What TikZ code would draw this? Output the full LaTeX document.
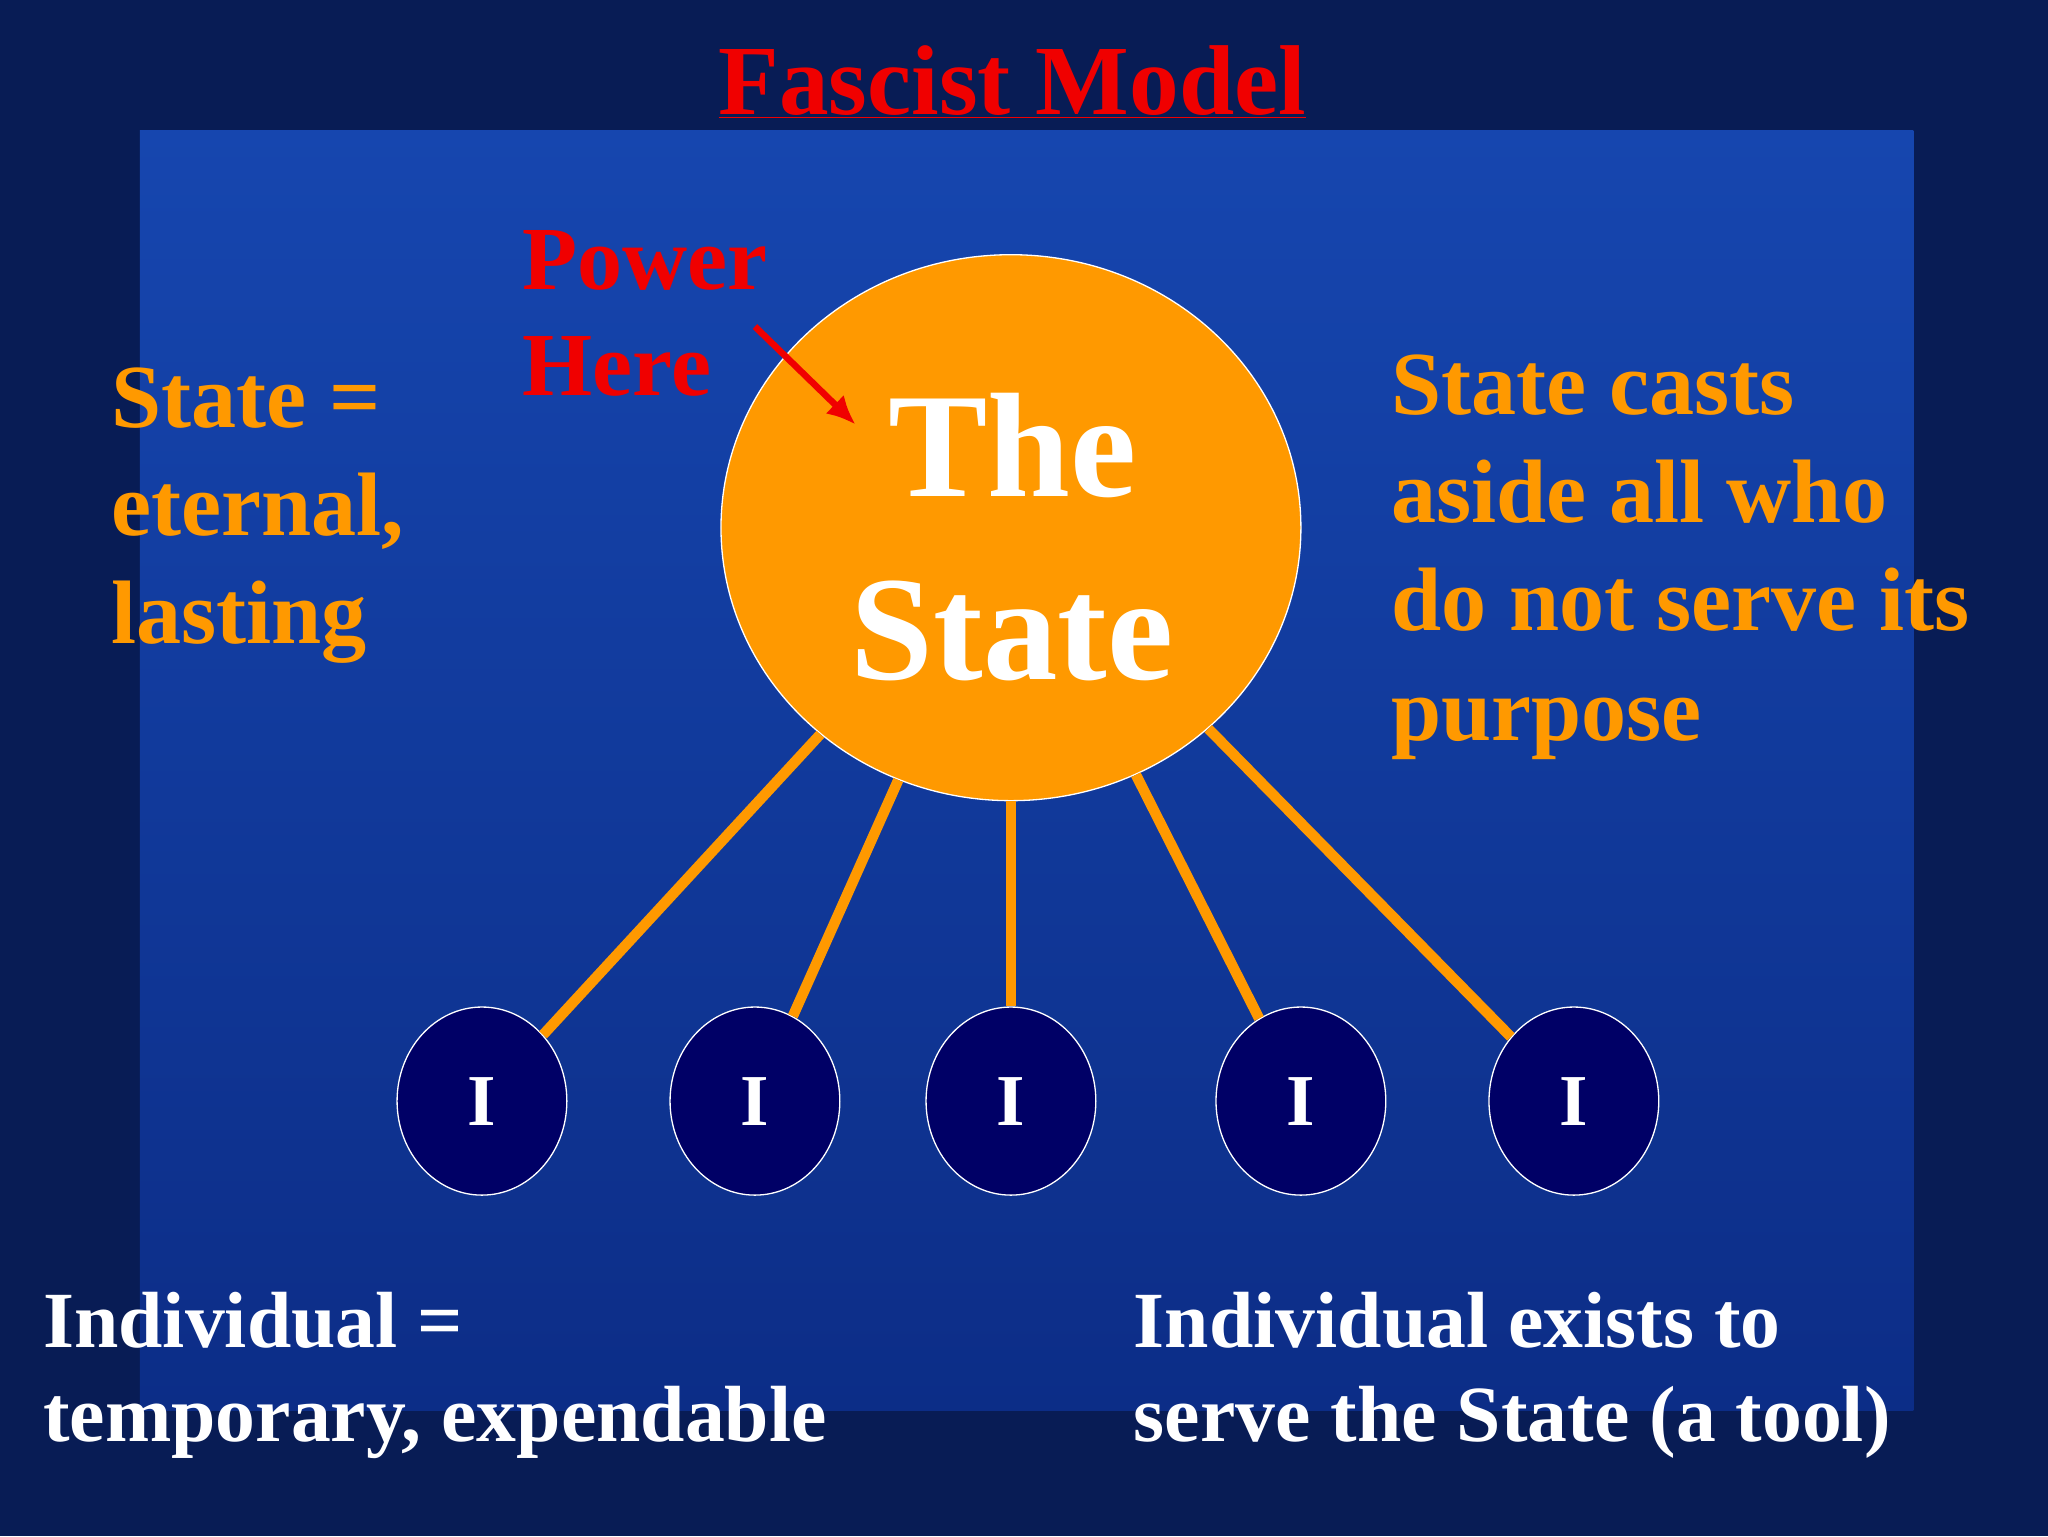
\documentclass[tikz,border=0pt]{standalone}
\usepackage{fontspec}
\setmainfont{Liberation Serif}
\usetikzlibrary{arrows.meta,shapes.geometric}
\definecolor{bgdark}{RGB}{8,28,85}
\definecolor{bgmid}{RGB}{12,45,135}
\definecolor{bglight}{RGB}{22,70,175}
\definecolor{orng}{RGB}{255,153,0}
\definecolor{navy}{RGB}{0,0,102}
\definecolor{redt}{RGB}{240,0,0}
\tikzset{
  lbl/.style={anchor=base west,inner sep=0pt},
  olbl/.style={lbl,text=orng,font=\bfseries\fontsize{69}{80}\selectfont},
  rlbl/.style={lbl,text=redt,font=\bfseries\fontsize{69}{80}\selectfont},
  wlbl/.style={lbl,text=white,font=\bfseries\fontsize{61}{70}\selectfont},
  big/.style={anchor=base,text=white,font=\bfseries\fontsize{114}{140}\selectfont,inner sep=0pt},
  indiv/.style={ellipse,draw=white,line width=1pt,fill=navy,minimum width=130pt,minimum height=144pt,inner sep=0pt,text=white,font=\bfseries\fontsize{56}{60}\selectfont},
  spoke/.style={orng,line width=8pt}
}
\begin{document}
\begin{tikzpicture}[x=1pt,y=-1pt]
\useasboundingbox (0,0) rectangle (1568,1176);
\fill[bgdark] (0,0) rectangle (1568,1176);
\shade[top color=bglight,bottom color=bgmid] (107,100) rectangle (1465,1080);
\node[anchor=base,inner sep=0pt,text=redt,font=\bfseries\fontsize{76}{80}\selectfont] (title) at (775,88) {\underline{Fascist Model}};
\node[ellipse,draw=white,line width=1pt,fill=orng,minimum width=444pt,minimum height=418pt,inner sep=0pt] (S) at (774,404) {};
\node[big] (the) at (775,380) {The};
\node[big] (st) at (775,520) {State};
\foreach \x [count=\i] in {369,578,774,996,1205}{
  \node[indiv] (i\i) at (\x,843) {I};
  \draw[spoke] (S) -- (i\i);
}
\node[olbl] (l1) at (85,327) {State =};
\node[olbl] (l2) at (85,410) {eternal,};
\node[olbl] (l3) at (85,493) {lasting};
\node[olbl] (r1) at (1065,317) {State casts};
\node[olbl] (r2) at (1065,400) {aside all who};
\node[olbl] (r3) at (1065,483) {do not serve its};
\node[olbl] (r4) at (1065,567) {purpose};
\node[rlbl] (p1) at (400,222) {Power};
\node[rlbl] (p2) at (400,303) {Here};
\coordinate (a1) at (578,250);
\coordinate (a2) at (655,325);
\draw[redt,line width=5pt,-{Latex[length=22pt,width=20pt]}] (a1) -- (a2);
\node[wlbl] (b1) at (33,1032) {Individual =};
\node[wlbl] (b2) at (33,1104) {temporary, expendable};
\node[wlbl] (b3) at (868,1032) {Individual exists to};
\node[wlbl] (b4) at (868,1104) {serve the State (a tool)};
\end{tikzpicture}
\end{document}
